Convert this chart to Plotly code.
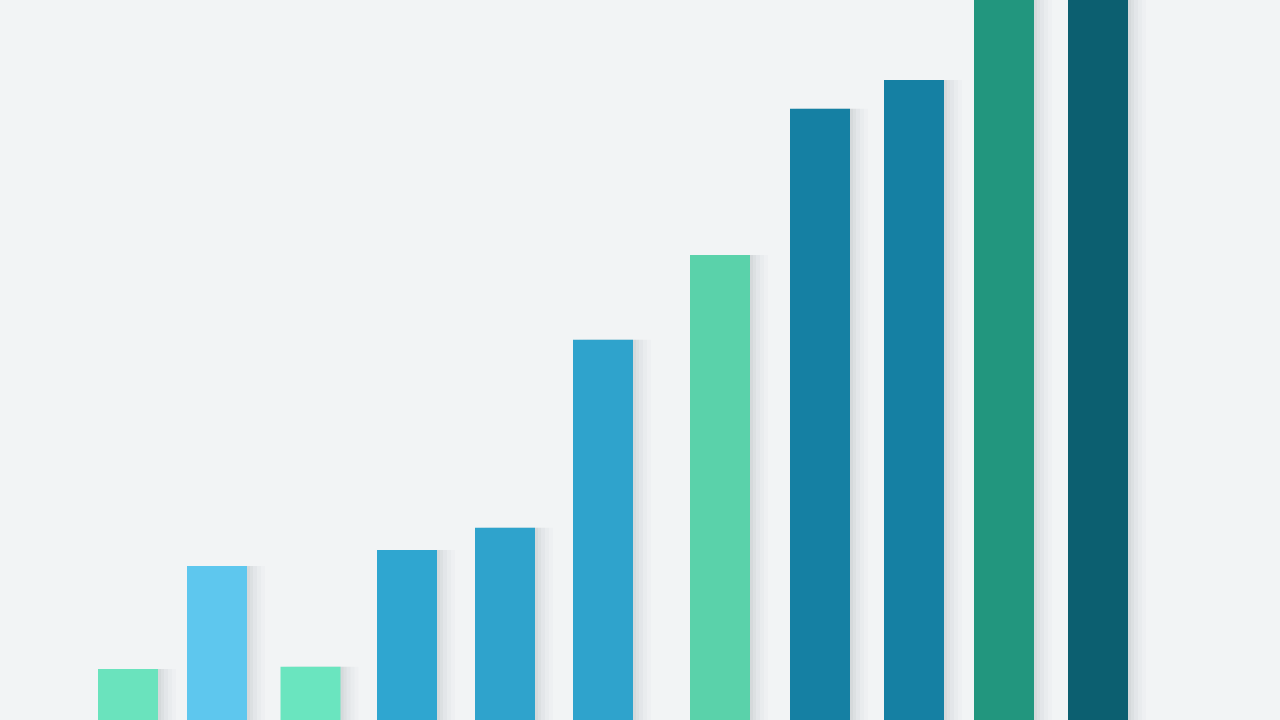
import plotly.graph_objects as go

# Data
positions = [128, 217, 310.5, 407, 505, 603, 720, 820, 914, 1004, 1098]
values = [7.1, 21.4, 7.4, 23.6, 26.7, 52.8, 64.6, 84.9, 88.9, 104, 108]
colors = ["#6ae3bd", "#5ec7ee", "#6ae5bf", "#2fa6d0", "#2fa3cc", "#2fa3cc",
          "#5ad2aa", "#1580a3", "#1580a3", "#22967e", "#0c5f70"]

BAR_W = 60
fig = go.Figure()

# soft drop shadows to the right of each bar
for d, a in [(18, 0.018), (14, 0.025), (10, 0.03), (6, 0.04), (3, 0.045)]:
    fig.add_trace(go.Bar(
        x=positions, y=values, width=BAR_W, offset=-BAR_W / 2 + d,
        marker=dict(color=f"rgba(60,70,80,{a})", line=dict(width=0)),
        hoverinfo="skip", showlegend=False,
    ))

fig.add_trace(go.Bar(
    x=positions, y=values, width=BAR_W,
    marker=dict(color=colors, line=dict(width=0)),
    showlegend=False,
))

fig.update_layout(
    width=1280, height=720,
    margin=dict(l=0, r=0, t=0, b=0),
    paper_bgcolor="#f1f3f5", plot_bgcolor="#f2f4f5",
    barmode="overlay",
    xaxis=dict(range=[0, 1280], visible=False, fixedrange=True),
    yaxis=dict(range=[0, 100], visible=False, fixedrange=True),
)

fig.write_html(
    "out.html",
    config={"displayModeBar": False},
    post_script="document.body.style.margin='0';document.body.style.overflow='hidden';document.body.style.background='#f1f3f5';",
)
